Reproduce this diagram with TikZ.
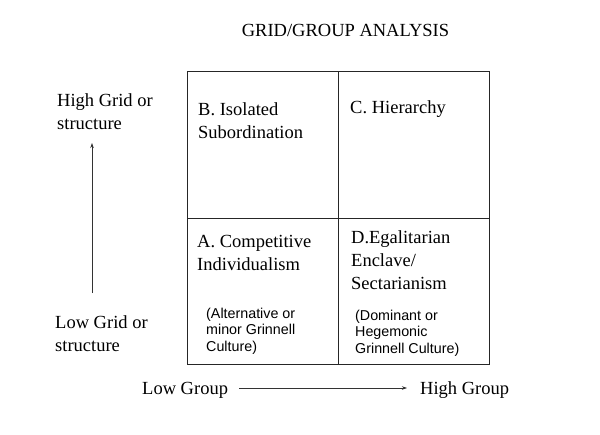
\documentclass[tikz,border=0pt]{standalone}
\usepackage{fontspec}
\setmainfont{Liberation Serif}
\setsansfont{Liberation Sans}
\usetikzlibrary{arrows.meta}
\newcommand{\toplines}[1]{\begin{tabular}[t]{@{}l@{}}#1\end{tabular}}
\begin{document}
\begin{tikzpicture}[x=1pt,y=-1pt,
  serif/.style={inner sep=0pt,anchor=base west,font=\fontsize{18.5}{23}\selectfont},
  sans/.style={inner sep=0pt,anchor=base west,font=\sffamily\fontsize{14.3}{16.5}\selectfont},
  cell/.style={draw=black!85,line width=0.9pt,minimum width=151pt,minimum height=146.5pt,inner sep=0pt,anchor=north west},
  axis/.style={draw=black!80,line width=0.7pt,-{Stealth[length=5pt,width=3.5pt]}}]
\useasboundingbox (0,0) rectangle (600,434);
\fill[white] (0,0) rectangle (600,434);
% title
\node[inner sep=0pt,anchor=base,font=\fontsize{18.5}{23}\selectfont] (title) at (345.5,36) {GRID/GROUP ANALYSIS};
% cells
\node[cell] (cellB) at (187,71) {};
\node[cell] (cellC) at (338,71) {};
\node[cell] (cellA) at (187,217.5) {};
\node[cell] (cellD) at (338,217.5) {};
% cell texts
\node[serif] (tB) at (198,115) {\toplines{B. Isolated\\Subordination}};
\node[serif] (tC) at (350,113) {C. Hierarchy};
\node[serif] (tA) at (197,247) {\toplines{A. Competitive\\Individualism}};
\node[serif] (tD) at (351,243) {\toplines{D.Egalitarian\\Enclave/\\Sectarianism}};
\node[sans] (sA) at (206,318) {\toplines{(Alternative or\\minor Grinnell\\Culture)}};
\node[sans] (sD) at (355,320) {\toplines{(Dominant or\\Hegemonic\\Grinnell Culture)}};
% left axis
\node[serif] (hg) at (57,106) {\toplines{High Grid or\\structure}};
\node[serif] (lg) at (55,328) {\toplines{Low Grid or\\structure}};
\coordinate (vb) at (92,293);
\coordinate (vt) at (92,143);
\draw[axis] (vb) -- (vt);
% bottom axis
\node[serif] (lgr) at (142,394) {Low Group};
\node[serif] (hgr) at (420,394) {High Group};
\draw[axis,shorten <=11pt,shorten >=13pt] (lgr.east |- 0,388) -- (hgr.west |- 0,388);
\end{tikzpicture}
\end{document}
